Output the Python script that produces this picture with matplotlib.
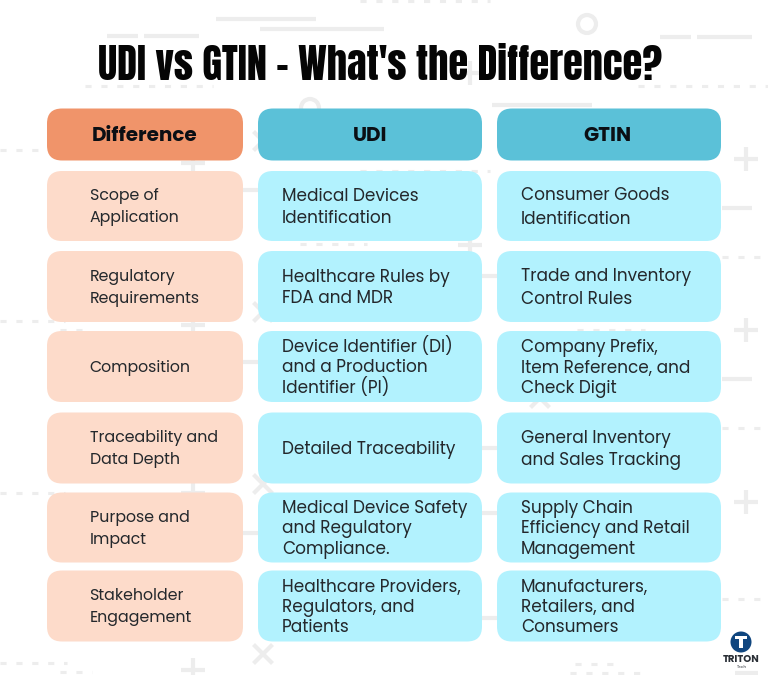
import matplotlib
matplotlib.use("Agg")
import matplotlib.pyplot as plt
from matplotlib.patches import FancyBboxPatch, Circle, Rectangle

TITLE = "UDI vs GTIN - What's the Difference?"
HEADERS = ["Difference", "UDI", "GTIN"]
DIFFERENCE = ["Scope of\nApplication", "Regulatory\nRequirements", "Composition",
              "Traceability and\nData Depth", "Purpose and\nImpact", "Stakeholder\nEngagement"]
UDI = ["Medical Devices\nIdentification", "Healthcare Rules by\nFDA and MDR",
       "Device Identifier (DI)\nand a Production\nIdentifier (PI)", "Detailed Traceability",
       "Medical Device Safety\nand Regulatory\nCompliance.",
       "Healthcare Providers,\nRegulators, and\nPatients"]
GTIN = ["Consumer Goods\nIdentification", "Trade and Inventory\nControl Rules",
        "Company Prefix,\nItem Reference, and\nCheck Digit", "General Inventory\nand Sales Tracking",
        "Supply Chain\nEfficiency and Retail\nManagement", "Manufacturers,\nRetailers, and\nConsumers"]

# layout in pixels of the 768x675 picture
COL_X = [(47, 243), (258, 482), (497, 721)]
HEAD_X = [144.5, 370, 607]
TEXT_X = [89.5, 282, 521]
TEXT_SIZE = [11.4, 12.2, 12.2]
PITCH_2 = [22, 21.5, 23]
TEXT_SHIFT = [5.5, 6, 6]
ROW_Y = [(171, 241), (251, 322), (331, 402), (412.5, 483.5), (492.5, 562.5), (570.5, 641.5)]

HEAD_COLORS = ["#F0946A", "#5BC1D8", "#5BC1D8"]
CELL_COLORS = ["#FDDBCA", "#B2F2FE", "#B2F2FE"]
DECO = "#EDEDED"
INK = "#24282C"

# faint background shapes
SOLID = [(216, 316, 19), (260, 384, 29), (107, 138, 36), (144, 199, 36), (660, 691, 37), (697, 752, 37),
         (492, 592, 105), (243, 258, 190), (243, 258, 362), (722, 752, 208), (722, 752, 379), (243, 258, 533),
         (482, 497, 276), (482, 497, 448), (482, 497, 513), (482, 497, 618), (735, 758, 673)]
DASHED = [(85, 213, 86), (638, 768, 86), (0, 47, 150), (0, 65, 321), (60, 90, 330), (722, 768, 257),
          (722, 768, 428), (0, 65, 493), (722, 768, 599), (0, 67, 663), (60, 92, 672), (300, 367, 244),
          (360, 490, 1), (360, 490, 171), (577, 645, 330), (575, 618, 664), (570, 645, 673)]
PLUS = [(746, 159), (746, 330), (746, 502), (470, 73), (470, 245), (193, 670), (193, 163), (193, 325),
        (193, 493)]
CROSS = [(263, 484), (263, 654), (263, 141), (263, 312), (540, 398)]
RINGS = [(587, 24, 9), (310, 108, 9)]

plt.rcParams["font.family"] = ["Poppins", "Inter", "DejaVu Sans"]

fig = plt.figure(figsize=(7.68, 6.75), dpi=100)
ax = fig.add_axes([0, 0, 1, 1])
ax.set_xlim(0, 768)
ax.set_ylim(675, 0)
ax.axis("off")

for x0, x1, y in SOLID:
    ax.plot([x0, x1], [y, y], color=DECO, lw=3, solid_capstyle="butt", zorder=1)
for x0, x1, y in DASHED:
    ax.plot([x0, x1], [y, y], color=DECO, lw=2.2, ls=(0, (2, 3.2)), zorder=1)
for x, y in PLUS:
    ax.plot([x - 12, x + 12], [y, y], color=DECO, lw=3, solid_capstyle="butt", zorder=1)
    ax.plot([x, x], [y - 12, y + 12], color=DECO, lw=3, solid_capstyle="butt", zorder=1)
for x, y in CROSS:
    ax.plot([x - 8, x + 8], [y - 8, y + 8], color=DECO, lw=3, zorder=1)
    ax.plot([x - 8, x + 8], [y + 8, y - 8], color=DECO, lw=3, zorder=1)
for x, y, r in RINGS:
    ax.add_patch(Circle((x, y), r, fill=False, ec=DECO, lw=3, zorder=1))


def box(x0, x1, y0, y1, color):
    ax.add_patch(FancyBboxPatch((x0, y0), x1 - x0, y1 - y0, boxstyle="round,pad=0,rounding_size=15",
                                fc=color, ec="none", zorder=2))


ax.text(380.5, 79.5, TITLE, family=["Anton", "Barlow Condensed", "DejaVu Sans"],
        fontsize=29, color="#050505", ha="center", va="baseline", zorder=3)

columns = [DIFFERENCE, UDI, GTIN]
for c, (x0, x1) in enumerate(COL_X):
    box(x0, x1, 108.5, 160.5, HEAD_COLORS[c])
    ax.text(HEAD_X[c], 134, HEADERS[c], fontsize=14.4, fontweight="bold", color="#0B0F14",
            ha="center", va="center_baseline", zorder=3)
    for r, (y0, y1) in enumerate(ROW_Y):
        box(x0, x1, y0, y1, CELL_COLORS[c])
        lines = columns[c][r].split("\n")
        pitch = 20.3 if len(lines) == 3 else PITCH_2[c]
        mid = (y0 + y1) / 2
        for i, line in enumerate(lines):
            ax.text(TEXT_X[c], mid + (i - (len(lines) - 1) / 2) * pitch + TEXT_SHIFT[c], line,
                    fontsize=TEXT_SIZE[c], color=INK, ha="left", va="baseline", zorder=3)

# logo bottom right
ax.add_patch(Circle((741, 642), 10.5, fc="#10467F", ec="none", zorder=3))
ax.add_patch(Rectangle((735, 636), 12, 3, fc="white", ec="none", zorder=4))
ax.add_patch(Rectangle((739, 636), 4, 12, fc="white", ec="none", zorder=4))
ax.text(741.5, 660, "TRITON", fontsize=7.2, fontweight="bold", color="#2A2F36", ha="center", va="center", zorder=3)
ax.text(741.5, 667, "Tech", fontsize=3, color="#2A2F36", ha="center", va="center", zorder=3)

fig.savefig("out.png", dpi=100, facecolor="white")
